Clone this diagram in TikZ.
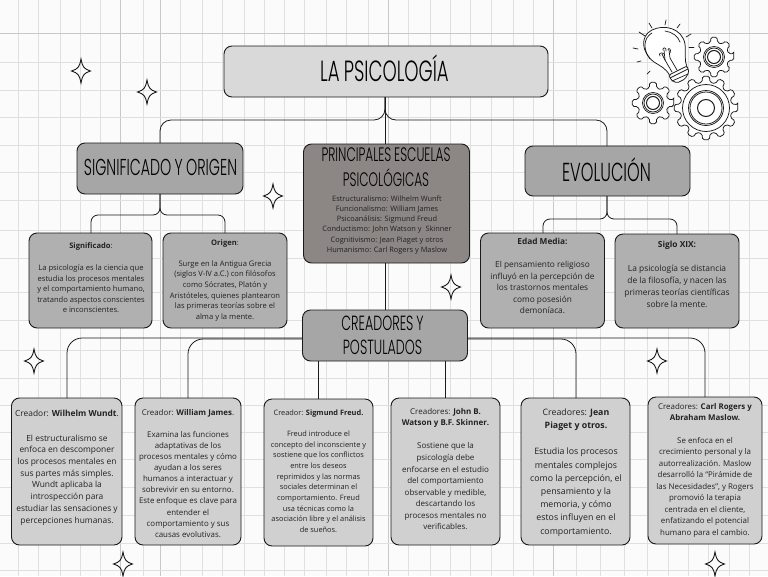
\documentclass[tikz,border=0pt]{standalone}
\usepackage{fontspec}
\setmainfont{Open Sans}
\newfontfamily\headfont[FakeStretch=0.62,WordSpace=0.85,UprightFont=*-Light]{Poppins}
\usetikzlibrary{calc}
\definecolor{paperc}{HTML}{FBFBFB}
\definecolor{gridc}{HTML}{E0E0E0}
\definecolor{gridd}{HTML}{C8C8C8}
\definecolor{titlefill}{HTML}{D9D9D9}
\definecolor{secfill}{HTML}{A6A6A6}
\definecolor{schoolfill}{HTML}{8C8785}
\definecolor{midfill}{HTML}{B0B0B0}
\definecolor{lowfill}{HTML}{D0D0D0}
\definecolor{inkc}{HTML}{1A1A1A}
\definecolor{textc}{HTML}{222222}
\tikzset{
 x=1pt,y=-1pt,
 boxbase/.style={draw=inkc,line width=0.9pt,rounded corners=8pt,inner sep=0pt,outer sep=0pt},
 txtbase/.style={align=center,anchor=north,inner sep=0pt,outer sep=0pt,text=textc},
 link/.style={draw=inkc,line width=0.8pt,rounded corners=11pt},
 sparkle/.style={draw=inkc,line width=0.9pt,fill=none},
 sketch/.style={draw=inkc,line width=0.75pt,fill=white},
 sketchline/.style={draw=inkc,line width=0.7pt,line cap=round},
}
\newcommand{\boxat}[6]{% name,x0,y0,x1,y1,fill
 \pgfmathsetmacro{\bw}{#4-#2}\pgfmathsetmacro{\bh}{#5-#3}
 \node[boxbase,fill=#6,minimum width=\bw pt,minimum height=\bh pt] (#1) at ({(#2+#4)/2},{(#3+#5)/2}) {};}
\newcommand{\txtat}[6]{% name,x,center of first line,size,leading,text
 \pgfmathsetmacro{\ty}{#3+1+0.27*#4-0.7*#5}
 \node[txtbase,font=\fontsize{#4}{#5}\selectfont] (#1) at (#2,\ty) {\strut #6};}
\newcommand{\capat}[6]{%
 \pgfmathsetmacro{\ty}{#3+0.35*#4-0.7*#5}
 \node[txtbase,text=black,font=\fontsize{#4}{#5}\selectfont\headfont] (#1) at (#2,\ty) {\strut #6};}
\newcommand{\sparkat}[2]{%
 \draw[sparkle] (#1,#2-12) .. controls (#1+1.5,#2-4) and (#1+3,#2-2) .. (#1+9.5,#2)
   .. controls (#1+3,#2+2) and (#1+1.5,#2+4) .. (#1,#2+12)
   .. controls (#1-1.5,#2+4) and (#1-3,#2+2) .. (#1-9.5,#2)
   .. controls (#1-3,#2-2) and (#1-1.5,#2-4) .. (#1,#2-12) -- cycle;}
\newcommand{\gearat}[5]{% x,y,outer,root,teeth
 \pgfmathsetmacro{\gstep}{360/#5}
 \draw[sketch,rounded corners=1.6pt] ($(#1,#2)+({-\gstep*0.2}:#3)$)
   \foreach \gi in {1,...,#5}{
     -- ($(#1,#2)+({(\gi-1)*\gstep+\gstep*0.2}:#3)$)
     -- ($(#1,#2)+({(\gi-1)*\gstep+\gstep*0.3}:#4)$)
     -- ($(#1,#2)+({(\gi)*\gstep-\gstep*0.3}:#4)$)
     -- ($(#1,#2)+({(\gi)*\gstep-\gstep*0.2}:#3)$)
   } -- cycle;}
\begin{document}
\begin{tikzpicture}
\useasboundingbox (0,0) rectangle (768,576);
\fill[paperc] (0,0) rectangle (768,576);
% paper grid
\foreach \gx in {18,38,60,80,100,143,180,202,222,244,264,284,304,326,346,368,408,430,450,470,491,513,533,576,600,624,647,668,688,708,729,749}
  \draw[gridc,line width=0.5pt] (\gx,0) -- (\gx,576);
\foreach \gx in {120,160,388,553}
  \draw[gridd,line width=0.5pt] (\gx,0) -- (\gx,576);
\foreach \gy in {62,90,117,145,172,200,230,258,292,320,350,378,405,432,459,487,515,543,570}
  \draw[gridc,line width=0.5pt] (0,\gy) -- (768,\gy);
\draw[gridd,line width=0.5pt] (0,33) -- (768,33);
% connector waypoints
\coordinate (hubtop) at (385,120);
\coordinate (hubA) at (160,120);
\coordinate (hubB) at (607,120);
\coordinate (lowL1) at (67,338);
\coordinate (lowL2) at (188,339);
\coordinate (lowR1) at (576,339);
\coordinate (lowR2) at (705,338);
\coordinate (splitA) at (160,215);
\coordinate (splitE) at (607,219);
% boxes
\boxat{title}{224}{46}{548}{97}{titlefill}
\boxat{sig}{77}{143}{243}{194}{secfill}
\boxat{evo}{525}{146}{690}{196}{secfill}
\boxat{esc}{303.5}{144}{469.5}{263}{schoolfill}
\boxat{crea}{302.5}{310}{467.5}{361}{secfill}
\boxat{bsig}{29}{233}{152}{328}{midfill}
\boxat{bori}{163}{233}{287}{328}{midfill}
\boxat{bmed}{480.5}{233}{604.5}{328}{midfill}
\boxat{bxix}{615}{234}{739}{328}{midfill}
\boxat{c1}{11.5}{398}{122}{545}{lowfill}
\boxat{c2}{135}{398}{241}{545}{lowfill}
\boxat{c3}{264}{399}{373}{546}{lowfill}
\boxat{c4}{391}{398}{500}{545}{lowfill}
\boxat{c5}{521}{398}{630}{545}{lowfill}
\boxat{c6}{648}{397}{762}{544}{lowfill}
% links
\draw[link] (title.south -| hubtop) |- (hubA) -- (hubA |- sig.north);
\draw[link] (title.south -| hubtop) |- (hubB) -- (hubB |- evo.north);
\draw[link] (title.south -| hubtop) -- (hubtop |- esc.north);
\draw[link] (esc.south -| crea.north) -- (crea.north);
\draw[link,rounded corners=7pt] (sig.south -| splitA) |- (91,215) -- (91,233);
\draw[link,rounded corners=7pt] (sig.south -| splitA) |- (225,215) -- (225,233);
\draw[link,rounded corners=7pt] (evo.south -| splitE) |- (543,219) -- (543,233);
\draw[link,rounded corners=7pt] (evo.south -| splitE) |- (677,219) -- (677,234);
\draw[link,rounded corners=15pt] (crea.west |- lowL1) -| (lowL1 |- c1.north);
\draw[link,rounded corners=15pt] (crea.west |- lowL2) -| (lowL2 |- c2.north);
\draw[link] (318,361) -- (318,399);
\draw[link] (445,361) -- (445,398);
\draw[link,rounded corners=15pt] (crea.east |- lowR1) -| (lowR1 |- c5.north);
\draw[link,rounded corners=15pt] (crea.east |- lowR2) -| (lowR2 |- c6.north);
% heads
\capat{ttitle}{384.5}{66}{29.2}{31}{LA PSICOLOGÍA}
\capat{tsig}{160.5}{167}{23}{25}{SIGNIFICADO Y ORIGEN}
\capat{tevo}{606.5}{168.5}{26}{28}{EVOLUCIÓN}
\capat{tesc}{386}{155}{19.5}{20}{PRINCIPALES ESCUELAS\\PSICOLÓGICAS}
\capat{tcrea}{382.5}{323}{20.5}{24.7}{CREADORES Y\\POSTULADOS}
% body texts
\txtat{tesc2}{387}{198}{7.4}{10.3}{Estructuralismo: Wilhelm Wunft\\Funcionalismo: William James\\Psicoanálisis: Sigmund Freud\\Conductismo: John Watson y\ \ Skinner\\Cognitivismo: Jean Piaget y otros\\Humanismo: Carl Rogers y Maslow}
\txtat{tbsig}{91}{245}{7.6}{10.4}{\textbf{Significado}:\\[12.4pt]La psicología es la ciencia que\\estudia los procesos mentales\\y el comportamiento humano,\\tratando aspectos conscientes\\e inconscientes.}
\txtat{tbori}{225}{242}{7.6}{10.6}{\textbf{Origen}:\\[10.6pt]Surge en la Antigua Grecia\\(siglos V-IV a.C.) con filósofos\\como Sócrates, Platón y\\Aristóteles, quienes plantearon\\las primeras teorías sobre el\\alma y la mente.}
\txtat{tbmed}{542.5}{241}{8.3}{11.6}{\textbf{Edad Media:}\\[11.6pt]El pensamiento religioso\\influyó en la percepción de\\los trastornos mentales\\como posesión\\demoníaca.}
\txtat{tbxix}{677}{244}{8.4}{12}{\textbf{Siglo XIX:}\\[12pt]La psicología se distancia\\de la filosofía, y nacen las\\primeras teorías científicas\\sobre la mente.}
\txtat{tc1}{67}{413}{8.4}{11.7}{Creador: \textbf{Wilhelm Wundt}.\\[13.2pt]El estructuralismo se\\enfoca en descomponer\\los procesos mentales en\\sus partes más simples.\\Wundt aplicaba la\\introspección para\\estudiar las sensaciones y\\percepciones humanas.}
\txtat{tc2}{188}{412}{7.9}{11.1}{Creador: \textbf{William James}.\\[11.1pt]Examina las funciones\\adaptativas de los\\procesos mentales y cómo\\ayudan a los seres\\humanos a interactuar y\\sobrevivir en su entorno.\\Este enfoque es clave para\\entender el\\comportamiento y sus\\causas evolutivas.}
\txtat{tc3}{318.5}{412}{7.4}{10.67}{Creador: \textbf{Sigmund Freud.}\\[10.67pt]Freud introduce el\\concepto del inconsciente y\\sostiene que los conflictos\\entre los deseos\\reprimidos y las normas\\sociales determinan el\\comportamiento. Freud\\usa técnicas como la\\asociación libre y el análisis\\de sueños.}
\txtat{tc4}{445.5}{411}{8}{11.57}{Creadores: \textbf{John B.}\\\textbf{Watson y B.F. Skinner.}\\[11.57pt]Sostiene que la\\psicología debe\\enfocarse en el estudio\\del comportamiento\\observable y medible,\\descartando los\\procesos mentales no\\verificables.}
\txtat{tc5}{576}{412}{8.8}{13.2}{Creadores: \textbf{Jean}\\\textbf{Piaget y otros.}\\[13.2pt]Estudia los procesos\\mentales complejos\\como la percepción, el\\pensamiento y la\\memoria, y cómo\\estos influyen en el\\comportamiento.}
\txtat{tc6}{705}{406}{7.9}{11.45}{Creadores: \textbf{Carl Rogers y}\\\textbf{Abraham Maslow.}\\[11.45pt]Se enfoca en el\\crecimiento personal y la\\autorrealización. Maslow\\desarrolló la “Pirámide de\\las Necesidades”, y Rogers\\promovió la terapia\\centrada en el cliente,\\enfatizando el potencial\\humano para el cambio.}
% sparkles
\sparkat{81}{71}
\sparkat{147}{92}
\sparkat{273}{196}
\sparkat{451}{287}
\sparkat{34}{361}
\sparkat{657}{361}
\sparkat{123}{564}
\sparkat{715}{564}
% gears
\gearat{714}{57}{20}{15}{8}
\draw[sketch] (714,57) circle (10.5);
\draw[sketch] (714,57) circle (9);
\draw[sketch,line width=1pt] (714,57) circle (6.5);
\gearat{653}{103}{21}{15.5}{8}
\draw[sketch] (653,103) circle (10.5);
\draw[sketch] (653,103) circle (9);
\draw[sketch,line width=1pt] (653,103) circle (6.5);
\gearat{706}{108}{32}{26}{12}
\draw[sketch,fill=none] (706,108) circle (23.5);
\draw[sketch] (706,108) circle (17.5);
\draw[sketch] (706,108) circle (16);
\draw[sketch,line width=1pt] (706,108) circle (8.5);
% bulb
\draw[sketch] (670,76) .. controls (666,68) and (660,66) .. (654,62)
  .. controls (641,52) and (640,36) .. (652,30)
  .. controls (664,24) and (682,28) .. (685,44)
  .. controls (686,54) and (684,60) .. (687,67) -- cycle;
\draw[sketchline] (650,59) .. controls (643,50) and (643,38) .. (652,33);
\draw[sketchline] (665,31) .. controls (672,32) and (678,36) .. (680,42);
\draw[sketchline] (672,72) -- (665,60) -- (662,54);
\draw[sketchline] (677,70) -- (670,58) -- (669,50);
\draw[sketchline] (665,60) -- (664,50);
\draw[sketchline] (660,56) .. controls (658,53) and (662,52) .. (664,54);
\draw[sketchline] (663,50) .. controls (662,47) and (667,47) .. (666,51);
\draw[sketchline] (668,50) .. controls (668,47) and (672,49) .. (670,53);
\draw[sketch,rounded corners=1.5pt] (669,75) -- (687,66) -- (689,72) -- (685,79) -- (677,83) -- (671,80) -- cycle;
\draw[sketchline] (670,78) -- (688,69);
\draw[sketchline] (672,81) -- (688,74);
\draw[sketchline] (633,48) -- (638,49);
\draw[sketchline] (637,62) -- (641,61);
\draw[sketchline] (647,74) -- (650,71);
\draw[sketchline] (639,32) -- (645,36);
\draw[sketchline] (649,23) -- (652,28);
\draw[sketchline] (666,20) -- (665,25);
\draw[sketchline] (680,24) -- (677,28);
\draw[sketchline] (691,34) -- (686,37);
\draw[sketchline] (694,47) -- (689,47);
\end{tikzpicture}
\end{document}
